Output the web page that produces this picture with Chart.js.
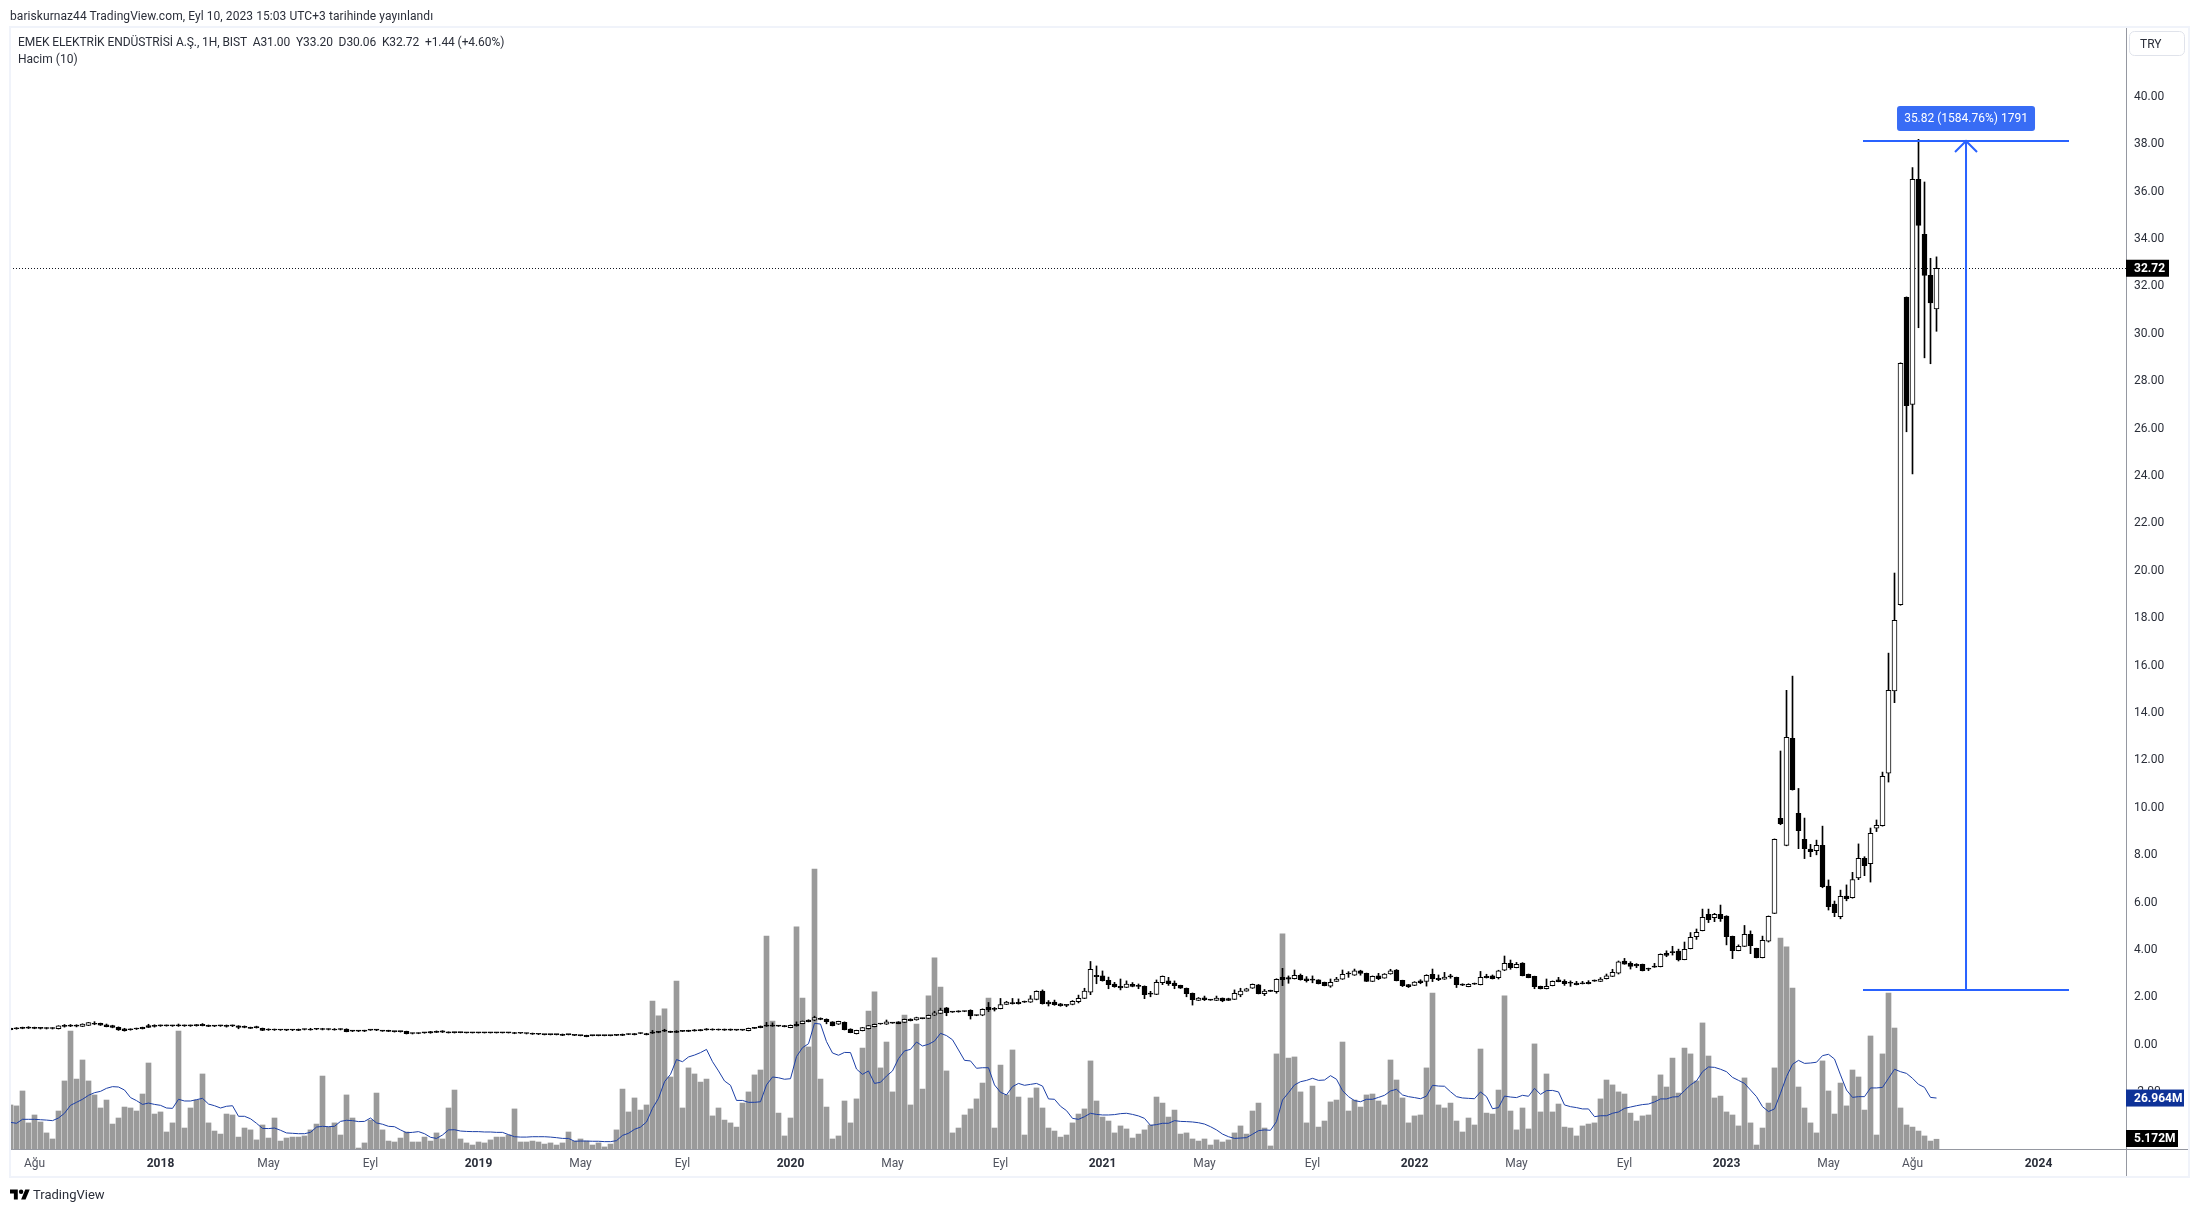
<!DOCTYPE html>
<html lang="tr">
<head>
<meta charset="utf-8">
<title>EMKEL</title>
<script src="https://cdn.jsdelivr.net/npm/chart.js@4"></script>
<style>
  html, body { margin: 0; padding: 0; background: #fff; width: 2198px; height: 1212px; overflow: hidden; }
  canvas { position: absolute; left: 0; top: 0; }
  .txt { position: absolute; font-family: Roboto, sans-serif; font-size: 12px; color: #2a2e39; white-space: pre; line-height: 16px; }
</style>
</head>
<body>
<canvas id="container" width="2198" height="1212"></canvas>
<div class="txt" style="left:10px;top:8px;letter-spacing:.07px">bariskurnaz44 TradingView.com, Eyl 10, 2023 15:03 UTC+3 tarihinde yayınlandı</div>
<div class="txt" style="left:18px;top:34px;letter-spacing:-.08px">EMEK ELEKTRİK ENDÜSTRİSİ A.Ş., 1H, BIST  A31.00  Y33.20  D30.06  K32.72  +1.44 (+4.60%)</div>
<div class="txt" style="left:18px;top:51px">Hacim (10)</div>
<svg style="position:absolute;left:10px;top:1188px" width="20" height="13" viewBox="0 4 36 18"><path d="M14 22H7V11H0V4h14v18z"/><path d="M28 22h-8l7.5-18h8L28 22z"/><circle cx="20" cy="8" r="4"/></svg>
<div class="txt" style="left:33px;top:1186px;font-size:13px;line-height:18px">TradingView</div>
<script>
// weekly bars, index 0 = first visible week
const opens = [
  .65,.66,.67,.69,.67,.66,.65,.65,.63,.75,
  .75,.75,.73,.77,.83,.86,.80,.76,.69,.63,
  .61,.64,.69,.76,.77,.77,.77,.76,.79,.77,
  .77,.79,.82,.77,.75,.76,.77,.77,.75,.73,
  .69,.69,.65,.62,.61,.59,.58,.59,.61,.61,
  .62,.62,.61,.61,.61,.61,.62,.54,.54,.55,
  .58,.58,.55,.56,.52,.52,.52,.44,.44,.47,
  .51,.52,.54,.49,.48,.48,.47,.47,.47,.47,
  .47,.47,.47,.47,.47,.45,.44,.44,.41,.39,
  .39,.39,.40,.39,.36,.35,.35,.35,.35,.35,
  .35,.36,.40,.40,.42,.44,.42,.49,.50,.55,
  .52,.53,.53,.56,.58,.59,.63,.62,.61,.61,
  .61,.58,.58,.55,.68,.74,.75,.75,.75,.76,
  .68,.82,.85,1.00,.99,1.07,1.03,.92,.82,.90,
  .62,.42,.55,.63,.72,.84,.82,.88,.92,.90,
  1.04,1.00,1.07,1.07,1.20,1.28,1.51,1.34,1.38,1.37,
  1.41,1.20,1.20,1.53,1.46,1.48,1.66,1.73,1.75,1.79,
  1.75,1.87,2.22,1.76,1.76,1.68,1.63,1.66,1.77,1.91,
  2.17,2.89,2.86,2.67,2.52,2.42,2.38,2.50,2.44,2.42,
  2.10,2.08,2.57,2.65,2.56,2.46,2.34,2.13,1.83,1.94,
  1.85,1.83,1.92,1.90,1.87,2.06,2.22,2.34,2.48,2.11,
  2.25,2.20,2.80,2.79,2.74,2.89,2.74,2.69,2.69,2.59,
  2.43,2.63,2.72,2.95,2.89,3.07,2.97,2.63,2.86,2.77,
  2.94,3.11,2.67,2.49,2.46,2.65,2.63,2.93,2.76,2.72,
  2.83,2.80,2.48,2.41,2.52,2.49,2.84,2.86,2.79,3.10,
  3.39,3.21,3.40,2.93,2.84,2.42,2.32,2.45,2.69,2.63,
  2.56,2.56,2.56,2.59,2.65,2.63,2.74,2.84,2.98,3.49,
  3.39,3.35,3.35,3.18,3.24,3.25,3.81,3.87,3.91,3.55,
  4.01,4.52,4.77,5.46,5.32,5.46,5.39,4.53,3.93,4.11,
  4.61,4.02,3.63,4.33,5.50,9.51,8.37,12.88,9.72,8.62,
  8.21,8.14,8.37,6.65,5.89,5.36,6.23,6.16,7.00,7.82,
  7.60,9.09,9.20,11.41,14.89,18.52,31.49,26.97,36.47,34.15,
  32.42,31.00
];
const closes = [
  .59,.63,.65,.66,.65,.65,.64,.64,.75,.73,
  .74,.74,.83,.89,.82,.78,.72,.69,.58,.55,
  .59,.62,.63,.69,.73,.75,.75,.75,.75,.75,
  .75,.76,.76,.73,.74,.75,.73,.75,.69,.69,
  .65,.68,.56,.58,.58,.58,.57,.58,.56,.60,
  .58,.61,.60,.60,.58,.60,.51,.53,.53,.53,
  .57,.57,.53,.52,.51,.51,.42,.43,.43,.46,
  .45,.48,.49,.46,.47,.47,.46,.46,.46,.46,
  .46,.46,.46,.46,.43,.44,.43,.40,.40,.38,
  .38,.38,.35,.38,.35,.34,.30,.34,.34,.34,
  .34,.35,.35,.39,.38,.43,.38,.44,.48,.53,
  .48,.48,.52,.52,.54,.55,.58,.58,.58,.57,
  .57,.57,.57,.65,.65,.68,.74,.74,.74,.72,
  .78,.75,.95,.93,1.10,1.02,.93,.76,.94,.59,
  .47,.56,.68,.76,.82,.83,.92,.87,.85,1.03,
  .97,1.10,1.06,1.20,1.30,1.42,1.31,1.33,1.34,1.36,
  1.17,1.19,1.45,1.43,1.45,1.65,1.76,1.69,1.69,1.75,
  1.89,2.21,1.69,1.68,1.65,1.60,1.62,1.79,1.91,2.22,
  3.14,2.83,2.66,2.49,2.41,2.35,2.52,2.42,2.42,2.07,
  2.09,2.59,2.84,2.53,2.45,2.34,2.11,1.86,1.93,1.86,
  1.84,1.93,1.80,1.83,2.13,2.22,2.32,2.50,2.11,2.22,
  2.21,2.72,2.70,2.72,2.89,2.70,2.66,2.68,2.53,2.45,
  2.59,2.73,2.93,2.94,3.07,2.97,2.63,2.84,2.74,2.94,
  3.07,2.66,2.45,2.41,2.60,2.58,2.89,2.74,2.70,2.81,
  2.82,2.49,2.47,2.51,2.51,2.80,2.79,2.74,3.07,3.39,
  3.21,3.35,2.87,2.79,2.41,2.32,2.42,2.63,2.62,2.53,
  2.55,2.49,2.53,2.53,2.64,2.73,2.86,3.01,3.45,3.36,
  3.26,3.28,3.08,3.14,3.23,3.77,3.73,3.84,3.53,3.98,
  4.49,4.70,5.33,5.23,5.46,5.28,4.52,3.93,4.11,4.61,
  4.14,3.63,4.36,5.37,8.62,9.28,12.93,10.72,8.99,8.23,
  8.10,8.37,6.63,5.78,5.53,6.22,6.12,6.93,7.82,7.51,
  8.88,9.21,11.28,14.91,17.86,28.71,26.92,36.47,34.53,32.42,
  31.26,32.72
];
const highs = [
  .66,.68,.70,.72,.70,.68,.68,.68,.76,.81,
  .81,.80,.84,.90,.93,.87,.83,.78,.71,.65,
  .63,.66,.70,.82,.80,.79,.79,.78,.83,.79,
  .79,.81,.85,.79,.76,.78,.79,.79,.76,.75,
  .70,.74,.66,.63,.62,.60,.59,.60,.62,.62,
  .65,.64,.65,.63,.64,.63,.63,.56,.55,.57,
  .59,.60,.56,.57,.53,.53,.53,.45,.46,.48,
  .52,.54,.55,.50,.49,.49,.48,.48,.48,.48,
  .48,.48,.48,.48,.48,.46,.45,.45,.42,.40,
  .40,.40,.41,.40,.37,.36,.36,.36,.36,.36,
  .36,.38,.41,.42,.43,.46,.44,.56,.52,.61,
  .53,.55,.55,.57,.60,.60,.64,.63,.62,.62,
  .62,.59,.59,.66,.69,.75,.90,.88,.77,.77,
  .79,.92,.96,1.01,1.16,1.09,1.05,.93,.95,.92,
  .63,.57,.69,.77,.83,.85,1.00,.89,.93,1.04,
  1.05,1.12,1.08,1.21,1.37,1.50,1.53,1.35,1.39,1.38,
  1.43,1.21,1.47,1.74,1.53,1.91,1.79,1.91,1.89,1.80,
  2.03,2.23,2.27,1.82,1.84,1.70,1.64,1.82,2.05,2.34,
  3.47,3.28,3.07,2.81,2.59,2.73,2.65,2.58,2.52,2.44,
  2.21,2.69,2.86,2.80,2.65,2.47,2.35,2.14,1.95,2.01,
  1.87,2.01,1.93,1.92,2.27,2.34,2.34,2.52,2.50,2.29,
  2.26,2.74,3.18,2.86,3.11,2.94,2.83,2.86,2.70,2.60,
  2.73,2.80,3.11,3.04,3.15,3.10,2.98,2.86,2.97,2.96,
  3.14,3.13,2.68,2.50,2.62,2.70,2.91,3.15,2.90,3.01,
  2.93,2.81,2.53,2.53,2.56,3.05,2.93,2.90,3.10,3.70,
  3.53,3.43,3.42,2.94,2.85,2.43,2.73,2.65,2.80,2.70,
  2.65,2.63,2.63,2.66,2.69,2.79,2.94,3.14,3.49,3.60,
  3.46,3.38,3.36,3.19,3.39,3.79,3.92,4.11,3.99,4.29,
  4.69,4.84,5.68,5.68,5.50,5.85,5.40,4.54,4.17,4.99,
  4.76,4.03,4.54,5.39,8.64,12.35,14.91,15.51,10.77,9.52,
  8.41,8.59,9.18,6.91,6.02,6.48,6.70,7.23,8.43,7.89,
  9.10,9.44,11.46,16.48,19.86,28.73,31.51,36.97,38.16,36.36,
  33.14,33.20
];
const lows = [
  .58,.61,.63,.64,.63,.62,.62,.62,.62,.70,
  .72,.71,.72,.76,.80,.77,.71,.67,.56,.53,
  .57,.60,.62,.68,.70,.73,.74,.73,.73,.73,
  .73,.74,.75,.72,.72,.73,.70,.72,.63,.67,
  .64,.66,.55,.56,.56,.56,.55,.55,.55,.58,
  .57,.59,.58,.58,.57,.58,.50,.51,.51,.51,
  .56,.55,.52,.51,.49,.49,.41,.41,.42,.44,
  .44,.47,.47,.45,.45,.46,.45,.45,.45,.45,
  .45,.45,.45,.45,.42,.43,.41,.39,.38,.37,
  .37,.37,.34,.37,.34,.33,.29,.33,.33,.33,
  .33,.34,.34,.38,.37,.42,.37,.43,.46,.51,
  .47,.47,.51,.51,.53,.54,.57,.57,.57,.56,
  .56,.56,.56,.54,.64,.67,.73,.73,.73,.71,
  .67,.74,.84,.92,.97,1.01,.84,.75,.81,.58,
  .46,.41,.54,.62,.71,.82,.81,.86,.84,.89,
  .96,.99,1.05,1.06,1.19,1.27,1.18,1.32,1.33,1.35,
  1.04,1.18,1.18,1.35,1.38,1.47,1.65,1.67,1.67,1.74,
  1.74,1.85,1.67,1.59,1.62,1.58,1.56,1.64,1.72,1.90,
  2.07,2.53,2.64,2.32,2.38,2.27,2.37,2.40,2.32,1.90,
  1.98,2.07,2.49,2.46,2.32,2.33,1.98,1.63,1.82,1.82,
  1.83,1.82,1.77,1.82,1.86,1.98,2.21,2.33,2.10,2.03,
  2.20,2.13,2.45,2.55,2.73,2.68,2.60,2.57,2.52,2.44,
  2.38,2.62,2.71,2.80,2.88,2.89,2.62,2.62,2.70,2.76,
  2.93,2.65,2.41,2.37,2.45,2.53,2.43,2.62,2.66,2.71,
  2.76,2.37,2.45,2.40,2.50,2.48,2.77,2.73,2.73,3.08,
  3.14,3.20,2.86,2.78,2.32,2.31,2.31,2.44,2.61,2.46,
  2.42,2.48,2.52,2.52,2.63,2.62,2.73,2.83,2.94,3.35,
  3.15,3.21,3.07,3.08,3.22,3.24,3.67,3.74,3.49,3.54,
  4.00,4.40,4.76,5.11,5.15,5.16,4.17,3.59,3.92,4.10,
  3.80,3.62,3.62,4.29,5.49,9.24,8.35,10.70,8.23,7.81,
  7.89,7.97,6.58,5.64,5.36,5.27,6.03,6.14,6.92,7.09,
  6.82,8.95,9.18,11.04,14.39,18.50,25.82,24.04,30.21,28.94,
  28.69,30.06
];
// volume in millions
const volumes = [
  23.3,22.8,30.7,13.8,18.0,14.3,8.5,5.3,20.1,36.0,
  62.4,37.0,47.1,36.0,28.6,21.7,25.9,13.2,16.4,22.2,
  21.7,20.1,29.1,45.5,18.5,19.6,9.0,13.8,62.4,11.1,
  21.7,25.9,39.7,13.8,9.5,7.9,18.5,18.0,6.3,11.1,
  10.1,4.8,12.7,5.8,16.4,4.2,5.8,6.3,6.3,6.9,
  10.1,13.2,38.6,11.6,13.8,7.4,28.6,16.4,0.5,3.2,
  15.3,29.6,10.1,4.2,3.7,5.8,9.0,3.7,3.7,6.3,
  4.2,8.5,5.3,21.7,31.2,5.3,3.2,2.1,3.7,3.2,
  4.8,6.3,6.3,7.4,21.2,3.7,3.7,4.2,3.7,2.6,
  3.2,2.1,3.2,9.0,4.2,5.3,4.2,2.1,3.2,1.1,
  2.6,10.1,31.7,19.6,27.0,20.6,23.3,78.3,70.4,74.1,
  38.1,88.9,21.7,42.9,39.7,35.4,37.0,17.5,21.7,15.3,
  13.8,11.6,24.3,30.2,39.2,41.8,112.7,67.7,19.0,6.9,
  16.4,117.5,79.9,54.0,148.1,37.0,22.2,5.3,6.9,25.4,
  13.8,26.5,53.4,73.0,83.1,42.9,56.6,30.2,67.2,70.9,
  23.3,66.1,31.7,81.0,101.1,85.7,41.3,8.5,11.1,18.0,
  21.2,26.5,34.9,79.9,11.1,44.4,28.6,52.4,27.5,7.4,
  27.0,32.3,21.7,11.1,9.5,6.3,7.4,13.8,18.5,21.2,
  46.6,25.4,16.9,14.8,8.5,12.2,10.6,5.8,7.9,10.1,
  12.7,27.5,24.3,16.9,20.6,7.9,8.5,5.3,4.2,5.3,
  2.1,4.8,3.7,4.8,8.5,12.2,7.9,20.1,24.3,11.1,
  1.6,50.3,113.8,48.1,48.7,30.2,13.8,33.3,11.6,14.8,
  24.9,25.9,56.6,20.1,25.9,22.2,28.6,29.1,25.4,23.3,
  47.1,36.5,27.0,13.8,17.5,18.0,42.9,82.5,23.3,21.7,
  24.3,14.8,9.0,16.4,12.7,52.9,19.0,18.5,31.2,81.0,
  20.1,10.1,21.7,10.6,55.6,19.6,39.7,19.6,23.8,11.6,
  11.1,6.9,12.2,13.2,13.8,26.5,36.5,33.9,30.2,29.1,
  19.0,14.8,17.5,18.0,28.0,39.2,32.8,48.1,29.6,53.4,
  50.3,36.0,66.7,49.2,27.0,28.0,19.6,18.0,12.2,37.6,
  13.8,2.1,11.1,24.3,42.9,111.6,106.9,85.2,32.8,21.7,
  13.8,8.5,46.6,30.7,18.5,34.9,22.8,41.8,38.1,20.6,
  59.8,7.4,50.3,82.5,64.0,21.7,12.7,11.6,9.5,6.9,
  4.2,5.172
];
const volumeMA = [
  14.1,13.6,15.7,15.7,15.7,15.5,15.3,15.0,16.4,18.9,
  23.1,24.7,26.3,28.4,29.8,30.5,32.1,33.0,32.8,31.2,
  27.2,25.6,23.6,24.3,23.6,23.1,21.7,21.5,26.3,25.4,
  25.4,26.1,26.8,23.8,22.9,21.7,22.6,22.9,17.3,17.3,
  16.0,13.6,10.9,10.8,11.1,9.9,8.5,8.3,8.1,8.1,
  8.8,11.6,12.0,11.8,12.0,14.6,15.2,15.0,14.5,14.6,
  16.4,13.8,13.1,12.0,11.8,10.1,8.6,8.8,9.2,8.1,
  6.2,5.6,7.4,10.1,10.2,9.5,9.3,9.2,9.2,9.0,
  9.0,8.8,8.8,7.6,6.5,6.3,6.3,6.5,6.5,6.5,
  6.3,6.0,5.6,5.6,4.1,4.2,4.2,4.1,4.1,3.9,
  3.9,4.4,7.2,8.3,10.4,11.6,14.3,21.5,26.8,35.6,
  39.5,47.3,46.2,48.7,49.7,51.0,52.7,46.2,41.3,36.0,
  33.7,25.7,25.7,24.7,24.7,25.0,33.9,38.1,37.7,36.9,
  37.2,48.9,53.6,55.7,66.5,66.1,56.8,50.8,49.6,51.1,
  51.0,42.3,39.5,41.3,34.7,35.3,38.6,41.3,47.8,51.9,
  52.7,56.6,54.5,55.4,57.1,61.2,60.0,57.8,52.4,46.9,
  46.6,42.7,43.0,43.0,33.9,30.0,28.6,33.0,34.7,33.7,
  34.2,34.7,33.3,26.5,26.3,22.6,20.3,16.2,15.7,17.1,
  18.9,18.3,18.0,18.0,18.2,18.7,18.9,18.3,17.5,16.2,
  12.5,12.9,13.6,13.6,15.0,14.6,14.5,14.3,13.9,13.2,
  11.8,10.1,7.9,6.5,5.6,5.8,6.0,7.8,9.7,10.1,
  9.9,14.5,25.9,29.8,33.9,35.6,36.3,37.4,36.3,36.5,
  38.8,36.9,30.9,27.7,25.6,25.0,26.3,26.3,27.3,28.4,
  30.7,31.6,28.6,27.7,27.2,26.6,28.0,33.7,33.3,33.2,
  30.3,27.7,27.0,26.8,26.6,30.2,27.7,21.3,21.9,28.0,
  27.5,27.2,28.4,27.9,32.1,28.9,30.9,31.0,30.2,23.3,
  22.4,21.9,21.2,21.2,17.1,17.6,17.6,18.9,19.6,21.5,
  22.2,22.9,23.5,23.8,24.9,26.5,26.5,27.5,27.7,30.9,
  33.9,36.0,40.9,43.4,43.2,42.2,40.9,37.9,36.3,34.7,
  31.2,27.7,22.4,19.8,21.2,29.5,38.3,44.8,46.9,45.3,
  45.5,45.9,49.4,50.1,47.6,39.2,31.2,27.3,27.7,27.7,
  32.3,32.3,32.6,37.4,42.2,40.9,40.0,37.4,34.2,32.6,
  27.3,26.964
];
const priceTicks = [40,38,36,34,32,30,28,26,24,22,20,18,16,14,12,10,8,6,4,2,0,-2];
const timeTickBars = [4,25,43,60,78,95,112,130,147,165,182,199,217,234,251,269,286,303,317,338];
const timeTickLabels = ['Ağu','2018','May','Eyl','2019','May','Eyl','2020','May','Eyl','2021','May','Eyl','2022','May','Eyl','2023','May','Ağu','2024'];
const yearLabels = ['2018','2019','2020','2021','2022','2023','2024'];
const lastPrice = 32.72;
const lastVolume = '5.172M';
const lastMA = '26.964M';
const measureLow = 2.27, measureHigh = 38.09;
const measureBars = [308.75, 325.92, 343.08];
const measureText = '35.82 (1584.76%) 1791';

const font = 'Roboto, sans-serif';
const blue = '#2962ff';

function isYearTick(ctx) {
  return !!ctx.tick && yearLabels.includes(ctx.tick.label);
}

const annotations = {
  id: 'annotations',
  beforeDatasetsDraw(chart) {
    const c = chart.ctx, y = chart.scales.y, a = chart.chartArea;
    c.save();
    c.strokeStyle = '#131722';
    c.setLineDash([1, 2]);
    c.lineWidth = 1;
    const py = Math.round(y.getPixelForValue(lastPrice)) + 0.5;
    c.beginPath(); c.moveTo(a.left, py); c.lineTo(a.right, py); c.stroke();
    c.restore();
  },
  afterDraw(chart) {
    const c = chart.ctx, x = chart.scales.x, y = chart.scales.y, v = chart.scales.vol, a = chart.chartArea;
    c.save();
    // frame and axis lines
    c.fillStyle = '#f0f3fa';
    c.fillRect(9, 26, 2181, 2); c.fillRect(9, 1176, 2181, 2);
    c.fillRect(9, 26, 2, 1152); c.fillRect(2188, 26, 2, 1152);
    c.fillStyle = '#9598a1';
    c.fillRect(2126, 28, 1, 1148);
    c.fillRect(11, 1149, 2177, 1);

    // price range measure
    const top = y.getPixelForValue(measureHigh), bot = y.getPixelForValue(measureLow);
    const xl = x.getPixelForValue(measureBars[0]), xm = x.getPixelForValue(measureBars[1]), xr = x.getPixelForValue(measureBars[2]);
    c.strokeStyle = blue;
    c.lineWidth = 2;
    c.beginPath();
    c.moveTo(xl, top); c.lineTo(xr, top);
    c.moveTo(xl, bot); c.lineTo(xr, bot);
    c.moveTo(xm, top); c.lineTo(xm, bot);
    c.moveTo(xm - 11, top + 11); c.lineTo(xm, top); c.lineTo(xm + 11, top + 11);
    c.stroke();
    c.fillStyle = '#386cf5';
    c.beginPath();
    c.roundRect(xm - 69, top - 35, 138, 25, 3);
    c.fill();
    c.fillStyle = '#fff';
    c.font = '12px ' + font;
    c.textAlign = 'center';
    c.textBaseline = 'middle';
    c.fillText(measureText, xm, top - 22);

    // right axis value tags
    function tag(py, w, bg, text) {
      c.fillStyle = bg;
      c.fillRect(2126, py - 8.5, w, 17);
      c.fillStyle = '#fff';
      c.font = 'bold 12px ' + font;
      c.textAlign = 'left';
      c.fillText(text, 2134, py + 0.5);
    }
    tag(y.getPixelForValue(lastPrice), 43, '#000', lastPrice.toFixed(2));
    tag(v.getPixelForValue(parseFloat(lastMA)), 58, '#0e3298', lastMA);
    tag(1138.5, 52, '#000', lastVolume);

    // currency button
    c.strokeStyle = '#e0e3eb';
    c.lineWidth = 1;
    c.beginPath();
    c.roundRect(2129.5, 31.5, 55, 24, 5);
    c.stroke();
    c.fillStyle = '#2a2e39';
    c.font = '12px ' + font;
    c.fillText('TRY', 2140, 45);
    c.restore();
  }
};

const bars = opens.map((o, i) => i);

new Chart(document.getElementById('container'), {
  type: 'bar',
  plugins: [annotations],
  data: {
    datasets: [
      {
        type: 'bar',
        label: 'Gövde',
        yAxisID: 'y',
        data: bars.map(i => ({ x: i, y: [opens[i], closes[i]] })),
        backgroundColor: bars.map(i => closes[i] >= opens[i] ? '#ffffff' : '#000000'),
        borderColor: '#000000',
        borderWidth: 1,
        borderSkipped: false,
        barThickness: 5,
        minBarLength: 1,
        grouped: false,
        order: 1
      },
      {
        type: 'bar',
        label: 'Fitil',
        yAxisID: 'y',
        data: bars.map(i => ({ x: i, y: [lows[i], highs[i]] })),
        backgroundColor: '#000000',
        barThickness: 1,
        grouped: false,
        order: 2
      },
      {
        type: 'line',
        label: 'Hacim MA',
        yAxisID: 'vol',
        data: bars.map(i => ({ x: i, y: volumeMA[i] })),
        borderColor: '#1c3fa6',
        borderWidth: 1,
        pointRadius: 0,
        tension: 0,
        order: 3
      },
      {
        type: 'bar',
        label: 'Hacim',
        yAxisID: 'vol',
        data: bars.map(i => ({ x: i, y: volumes[i] })),
        backgroundColor: '#9a9a9a',
        barThickness: 5,
        grouped: false,
        order: 4
      }
    ]
  },
  options: {
    responsive: false,
    animation: false,
    events: [],
    layout: { padding: { left: 10, top: 28, right: 10, bottom: 35 } },
    plugins: { legend: { display: false }, tooltip: { enabled: false } },
    scales: {
      x: {
        type: 'linear',
        offset: false,
        min: -1 / 12,
        max: 352.5833,
        grid: { display: false, drawTicks: false },
        border: { display: false },
        afterBuildTicks(axis) { axis.ticks = timeTickBars.map(b => ({ value: b })); },
        afterFit(axis) { axis.height = 28; },
        ticks: {
          autoSkip: false,
          maxRotation: 0,
          padding: 8,
          callback(value) { return timeTickLabels[timeTickBars.indexOf(value)]; },
          color: ctx => isYearTick(ctx) ? '#2a2e39' : '#50535e',
          font: ctx => ({ family: font, size: 12, weight: isYearTick(ctx) ? 'bold' : 'normal' })
        }
      },
      y: {
        position: 'right',
        min: -4.443,
        max: 42.857,
        grid: { display: false, drawTicks: false },
        border: { display: false },
        afterBuildTicks(axis) { axis.ticks = priceTicks.map(p => ({ value: p })); },
        afterFit(axis) { axis.width = 62; },
        ticks: {
          autoSkip: false,
          padding: 8,
          labelOffset: 1,
          callback(value) { return value.toFixed(2); },
          color: '#2a2e39',
          font: { family: font, size: 12 }
        }
      },
      vol: {
        display: false,
        min: 0,
        max: 593.1
      }
    }
  }
});
</script>
</body>
</html>
